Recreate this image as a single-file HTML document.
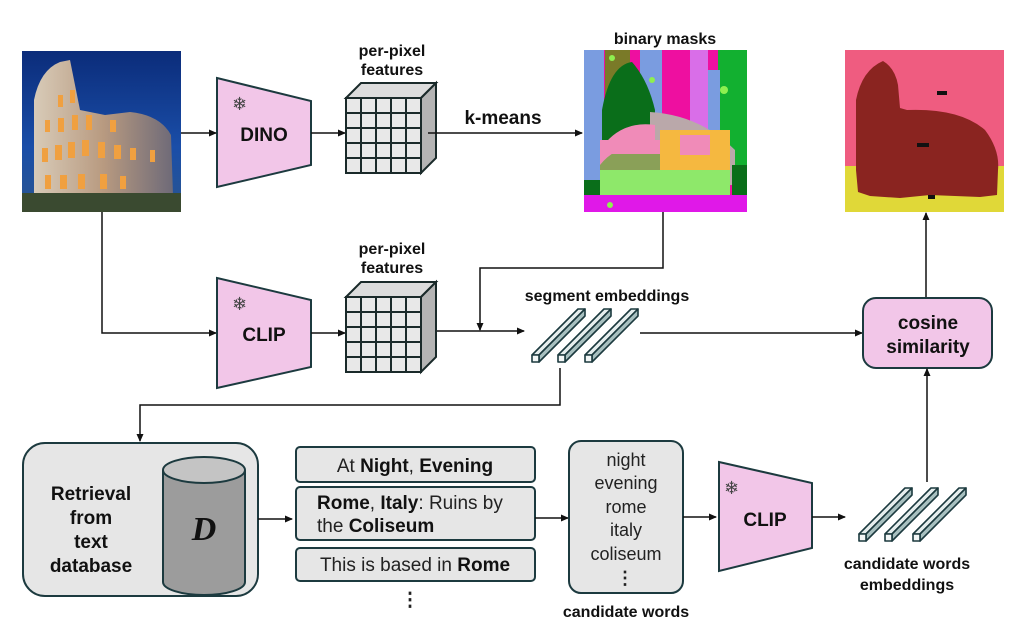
<!DOCTYPE html>
<html><head><meta charset="utf-8"><style>
html,body{margin:0;padding:0;background:#fff;}
svg{display:block;font-family:"Liberation Sans",Arial,sans-serif;}
.b{font-weight:bold;fill:#111;}
</style></head><body>
<svg width="1024" height="642" viewBox="0 0 1024 642" xmlns="http://www.w3.org/2000/svg">
<defs>
<marker id="ar" markerWidth="8" markerHeight="8" refX="7" refY="4" orient="auto" markerUnits="userSpaceOnUse"><path d="M0,0.5 L8,4 L0,7.5 Z" fill="#111"/></marker>
<linearGradient id="sky" x1="0" y1="0" x2="0" y2="1"><stop offset="0" stop-color="#0b2c7a"/><stop offset="0.6" stop-color="#1a4ea8"/><stop offset="1" stop-color="#2a5590"/></linearGradient>
<linearGradient id="col" x1="0" y1="0" x2="1" y2="0"><stop offset="0" stop-color="#d8cbb8"/><stop offset="0.5" stop-color="#b89a80"/><stop offset="1" stop-color="#6e6a78"/></linearGradient>
<clipPath id="cm"><rect x="584" y="50" width="163" height="162"/></clipPath>
</defs>

<!-- photo -->
<rect x="22" y="51" width="159" height="161" fill="url(#sky)"/>
<path d="M34,160 L34,100 Q40,70 60,62 L70,60 L80,110 L95,113 L105,115 L130,112 Q160,115 171,135 L173,195 L34,195 Z" fill="url(#col)"/>
<g fill="#f0a040">
<rect x="42" y="148" width="6" height="14"/><rect x="55" y="145" width="7" height="15"/><rect x="68" y="142" width="7" height="16"/><rect x="82" y="140" width="7" height="16"/><rect x="98" y="142" width="7" height="16"/><rect x="114" y="145" width="7" height="14"/><rect x="130" y="148" width="6" height="12"/><rect x="150" y="150" width="5" height="12"/>
<rect x="45" y="120" width="5" height="12"/><rect x="58" y="118" width="6" height="14"/><rect x="72" y="115" width="6" height="15"/><rect x="86" y="115" width="6" height="15"/><rect x="110" y="120" width="6" height="12"/>
<rect x="58" y="95" width="5" height="12"/><rect x="70" y="90" width="5" height="13"/>
<rect x="45" y="175" width="6" height="14"/><rect x="60" y="175" width="7" height="14"/><rect x="78" y="174" width="7" height="15"/><rect x="100" y="174" width="7" height="15"/><rect x="120" y="176" width="6" height="13"/>
</g>
<rect x="22" y="193" width="159" height="19" fill="#3a4a30"/>

<!-- DINO -->
<polygon points="217,78 311,101 311,165 217,187" fill="#f2c6e8" stroke="#1c3a3f" stroke-width="2"/>
<text x="232" y="110" font-size="18" fill="#444" font-family="DejaVu Sans">❄</text>
<text x="264" y="141" font-size="19" class="b" text-anchor="middle">DINO</text>
<line x1="181" y1="133" x2="216" y2="133" stroke="#111" stroke-width="1.5" marker-end="url(#ar)"/>
<line x1="311" y1="133" x2="345" y2="133" stroke="#111" stroke-width="1.5" marker-end="url(#ar)"/>

<!-- cube1 -->
<g stroke="#1a2a2a" stroke-width="2">
<polygon points="346,98 361,83 436,83 421,98" fill="#dcdcdc"/>
<polygon points="421,98 436,83 436,158 421,173" fill="#b4b4b4"/>
<rect x="346" y="98" width="75" height="75" fill="#e8e8e8"/>
<path d="M361,98V173M376,98V173M391,98V173M406,98V173M346,113H421M346,128H421M346,143H421M346,158H421" fill="none"/>
</g>
<text x="392" y="56" font-size="16" class="b" text-anchor="middle">per-pixel</text>
<text x="392" y="75" font-size="16" class="b" text-anchor="middle">features</text>

<line x1="428" y1="133" x2="582" y2="133" stroke="#111" stroke-width="1.5" marker-end="url(#ar)"/>
<text x="503" y="124" font-size="19" class="b" text-anchor="middle">k-means</text>

<!-- masks -->
<text x="665" y="44" font-size="16" class="b" text-anchor="middle">binary masks</text>
<g clip-path="url(#cm)">
<rect x="584" y="50" width="163" height="162" fill="#ee0fa0"/>
<rect x="584" y="50" width="20" height="130" fill="#7a9ce0"/>
<rect x="605" y="50" width="25" height="60" fill="#7a7a28"/>
<rect x="640" y="50" width="22" height="70" fill="#7a9ce0"/>
<rect x="690" y="50" width="18" height="110" fill="#d96ee8"/>
<rect x="718" y="50" width="29" height="120" fill="#12b030"/>
<rect x="708" y="70" width="12" height="80" fill="#7a9ce0"/>
<path d="M602,180 L602,110 Q610,65 632,62 Q648,80 655,110 L655,150 Z" fill="#0a6e1a"/>
<path d="M650,112 Q700,115 735,150 L735,185 L650,185 Z" fill="#baa8aa"/>
<path d="M600,150 Q620,120 655,125 L655,165 L600,165 Z" fill="#f08bb8"/>
<path d="M600,165 Q620,140 660,145 L660,185 L600,185 Z" fill="#8aa058"/>
<rect x="600" y="140" width="60" height="14" fill="#f08bb8"/>
<rect x="660" y="130" width="70" height="40" fill="#f5b840"/>
<rect x="680" y="135" width="30" height="20" fill="#f08bb8"/>
<rect x="600" y="170" width="130" height="25" fill="#8ee86a"/>
<rect x="584" y="180" width="16" height="20" fill="#0a6e1a"/>
<rect x="732" y="165" width="15" height="30" fill="#0a6e1a"/>
<rect x="584" y="195" width="163" height="17" fill="#e018e8"/>
<circle cx="612" cy="58" r="3" fill="#8ef050"/><circle cx="652" cy="80" r="3" fill="#8ef050"/><circle cx="724" cy="90" r="4" fill="#8ef050"/><circle cx="610" cy="205" r="3" fill="#8ef050"/>
</g>

<!-- result image -->
<rect x="845" y="50" width="159" height="162" fill="#ef5c80"/>
<rect x="845" y="166" width="159" height="46" fill="#e0d838"/>
<path d="M856,100 Q862,70 883,61 Q895,68 898,85 L900,108 L907,110 Q960,108 985,130 Q1000,150 998,170 L997,195 L980,197 L930,195 L900,198 L870,196 L858,192 L856,170 Z" fill="#8a2420"/>
<rect x="937" y="91" width="10" height="4" fill="#111"/>
<rect x="917" y="143" width="12" height="4" fill="#111"/>
<rect x="928" y="195" width="7" height="4" fill="#111"/>
<line x1="926" y1="298" x2="926" y2="213" stroke="#111" stroke-width="1.5" marker-end="url(#ar)"/>

<!-- CLIP 1 -->
<polyline points="102,212 102,333 216,333" fill="none" stroke="#111" stroke-width="1.5" marker-end="url(#ar)"/>
<polygon points="217,278 311,300 311,367 217,388" fill="#f2c6e8" stroke="#1c3a3f" stroke-width="2"/>
<text x="232" y="310" font-size="18" fill="#444" font-family="DejaVu Sans">❄</text>
<text x="264" y="341" font-size="19" class="b" text-anchor="middle">CLIP</text>
<line x1="311" y1="333" x2="345" y2="333" stroke="#111" stroke-width="1.5" marker-end="url(#ar)"/>
<g stroke="#1a2a2a" stroke-width="2">
<polygon points="346,297 361,282 436,282 421,297" fill="#dcdcdc"/>
<polygon points="421,297 436,282 436,357 421,372" fill="#b4b4b4"/>
<rect x="346" y="297" width="75" height="75" fill="#e8e8e8"/>
<path d="M361,297V372M376,297V372M391,297V372M406,297V372M346,312H421M346,327H421M346,342H421M346,357H421" fill="none"/>
</g>
<text x="392" y="254" font-size="16" class="b" text-anchor="middle">per-pixel</text>
<text x="392" y="273" font-size="16" class="b" text-anchor="middle">features</text>
<line x1="437" y1="331" x2="524" y2="331" stroke="#111" stroke-width="1.5" marker-end="url(#ar)"/>
<polyline points="663,212 663,268 480,268 480,330" fill="none" stroke="#111" stroke-width="1.5" marker-end="url(#ar)"/>

<!-- segment embeddings -->
<text x="607" y="301" font-size="16" class="b" text-anchor="middle">segment embeddings</text>
<g stroke="#1c3a3f" stroke-width="1.6" stroke-linejoin="round">
<g id="bar1">
<polygon points="532,355 578,309 585,309 539,355" fill="#e6eeee"/>
<polygon points="539,355 585,309 585,316 539,362" fill="#a8c0c0"/>
<rect x="532" y="355" width="7" height="7" fill="#f2f6f6"/>
</g>
<use href="#bar1" x="26"/>
<use href="#bar1" x="53"/>
</g>
<line x1="640" y1="333" x2="862" y2="333" stroke="#111" stroke-width="1.5" marker-end="url(#ar)"/>
<rect x="863" y="298" width="129" height="70" rx="13" fill="#f2c6e8" stroke="#1c3a3f" stroke-width="2"/>
<text x="928" y="329" font-size="19" class="b" text-anchor="middle">cosine</text>
<text x="928" y="353" font-size="19" class="b" text-anchor="middle">similarity</text>
<polyline points="560,368 560,405 140,405 140,441" fill="none" stroke="#111" stroke-width="1.5" marker-end="url(#ar)"/>

<!-- retrieval -->
<rect x="23" y="443" width="235" height="153" rx="22" fill="#e6e6e6" stroke="#1c3a3f" stroke-width="2"/>
<text x="91" y="500" font-size="19" class="b" text-anchor="middle">Retrieval</text>
<text x="91" y="524" font-size="19" class="b" text-anchor="middle">from</text>
<text x="91" y="548" font-size="19" class="b" text-anchor="middle">text</text>
<text x="91" y="572" font-size="19" class="b" text-anchor="middle">database</text>
<path d="M163,470 L163,582 A41,13 0 0 0 245,582 L245,470" fill="#9c9c9c" stroke="#1c3a3f" stroke-width="2"/>
<ellipse cx="204" cy="470" rx="41" ry="13" fill="#c4c4c4" stroke="#1c3a3f" stroke-width="2"/>
<text x="204" y="540" font-size="34" font-weight="bold" font-style="italic" font-family="Liberation Serif,serif" text-anchor="middle" fill="#111">D</text>
<line x1="258" y1="519" x2="292" y2="519" stroke="#111" stroke-width="1.5" marker-end="url(#ar)"/>

<!-- text boxes -->
<g fill="#e6e6e6" stroke="#1c3a3f" stroke-width="2">
<rect x="296" y="447" width="239" height="35" rx="4"/>
<rect x="296" y="487" width="239" height="53" rx="4"/>
<rect x="296" y="548" width="239" height="33" rx="4"/>
</g>
<g font-size="19" fill="#222">
<text x="415" y="472" text-anchor="middle">At <tspan font-weight="bold" fill="#111">Night</tspan>, <tspan font-weight="bold" fill="#111">Evening</tspan></text>
<text x="317" y="509"><tspan font-weight="bold" fill="#111">Rome</tspan>, <tspan font-weight="bold" fill="#111">Italy</tspan>: Ruins by</text>
<text x="317" y="532">the <tspan font-weight="bold" fill="#111">Coliseum</tspan></text>
<text x="415" y="571" text-anchor="middle">This is based in <tspan font-weight="bold" fill="#111">Rome</tspan></text>
<text x="410" y="606" text-anchor="middle" font-weight="bold">⋮</text>
</g>
<line x1="535" y1="518" x2="568" y2="518" stroke="#111" stroke-width="1.5" marker-end="url(#ar)"/>

<!-- candidate words -->
<rect x="569" y="441" width="114" height="152" rx="12" fill="#e6e6e6" stroke="#1c3a3f" stroke-width="2"/>
<g font-size="18" fill="#222" text-anchor="middle">
<text x="626" y="466">night</text>
<text x="626" y="489">evening</text>
<text x="626" y="513">rome</text>
<text x="626" y="536">italy</text>
<text x="626" y="560">coliseum</text>
<text x="625" y="584" font-weight="bold">⋮</text>
</g>
<text x="626" y="617" font-size="16" class="b" text-anchor="middle">candidate words</text>
<line x1="683" y1="517" x2="716" y2="517" stroke="#111" stroke-width="1.5" marker-end="url(#ar)"/>

<!-- CLIP 2 -->
<polygon points="719,462 812,483 812,548 719,571" fill="#f2c6e8" stroke="#1c3a3f" stroke-width="2"/>
<text x="724" y="494" font-size="18" fill="#444" font-family="DejaVu Sans">❄</text>
<text x="765" y="526" font-size="19" class="b" text-anchor="middle">CLIP</text>
<line x1="812" y1="517" x2="845" y2="517" stroke="#111" stroke-width="1.5" marker-end="url(#ar)"/>

<g stroke="#1c3a3f" stroke-width="1.6" stroke-linejoin="round">
<use href="#bar1" x="327" y="179"/>
<use href="#bar1" x="353" y="179"/>
<use href="#bar1" x="381" y="179"/>
</g>
<text x="907" y="569" font-size="16" class="b" text-anchor="middle">candidate words</text>
<text x="907" y="590" font-size="16" class="b" text-anchor="middle">embeddings</text>
<line x1="927" y1="482" x2="927" y2="369" stroke="#111" stroke-width="1.5" marker-end="url(#ar)"/>
</svg>
</body></html>
